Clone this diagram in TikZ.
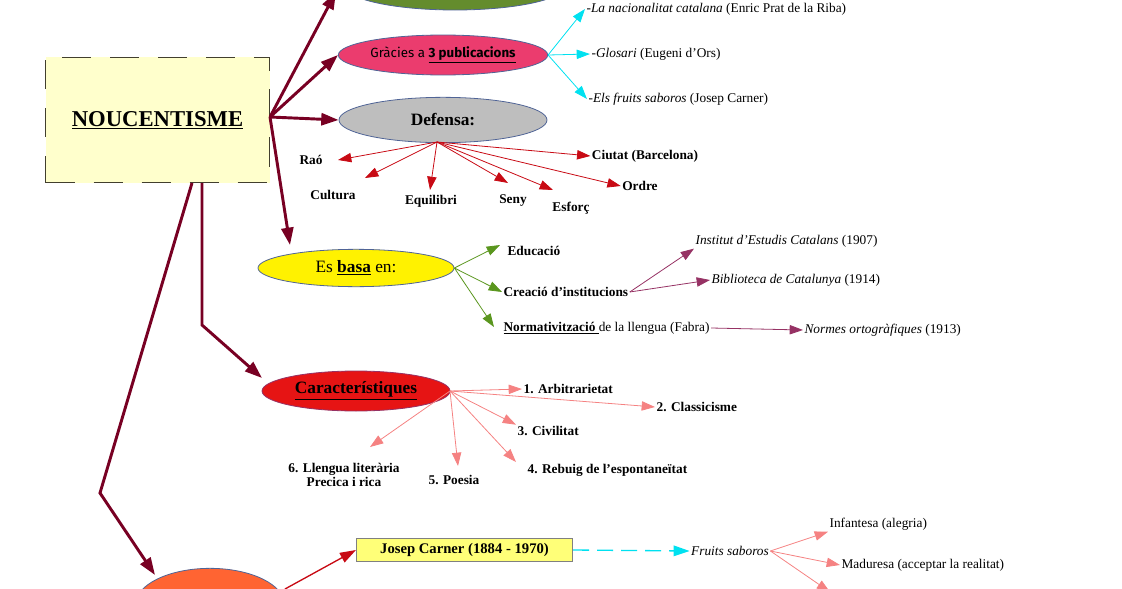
\documentclass[tikz,border=0pt]{standalone}
\usepackage{fontspec}
\setmainfont{Liberation Serif}
\newfontfamily\comic{Fira Sans}
\usetikzlibrary{arrows.meta,shapes.geometric}
\definecolor{dred}{RGB}{120,0,35}
\definecolor{rred}{RGB}{200,10,20}
\definecolor{cy}{RGB}{0,225,240}
\definecolor{gr}{RGB}{90,150,30}
\definecolor{pu}{RGB}{150,50,100}
\definecolor{pk}{RGB}{245,130,130}
\definecolor{bord}{RGB}{80,100,150}
\begin{document}
\begin{tikzpicture}[x=0.75pt,y=-0.75pt,
  big/.style={draw=dred,line width=2.2pt,-{Triangle[length=13pt,width=9pt]}},
  thin/.style={line width=0.6pt,-{Triangle[length=10pt,width=7pt]}},
  ell/.style={ellipse,draw=bord,line width=0.6pt,inner sep=0pt},
  t/.style={font=\fontsize{10}{11}\selectfont,inner sep=1pt},
  tb/.style={t,font=\fontsize{10}{11}\selectfont\bfseries}]
\useasboundingbox (0,0) rectangle (1122,589);
\clip (0,0) rectangle (1122,589);
% main box
\node[draw=black!70!olive,dashed,dash pattern=on 22pt off 14pt,line width=0.8pt,fill={rgb,255:red,255;green,255;blue,204},minimum width=168pt,minimum height=94pt,font=\fontsize{17}{19}\selectfont\bfseries] (main) at (157.5,120) {\underline{NOUCENTISME}};
% ellipses
\node[ell,fill={rgb,255:red,100;green,140;blue,45},minimum width=165pt,minimum height=36pt] (green) at (455,-14) {};
\node[ell,fill={rgb,255:red,235;green,60;blue,110},minimum width=157pt,minimum height=30pt,font=\comic\fontsize{10}{11}\selectfont] (gra) at (443,55) {Gràcies a \underline{\textbf{3 publicacions}}};
\node[ell,fill={rgb,255:red,190;green,190;blue,190},minimum width=156pt,minimum height=34pt,font=\fontsize{13}{14}\selectfont\bfseries] (def) at (443,120) {Defensa:};
\node[ell,fill=yellow,minimum width=147pt,minimum height=28pt,font=\fontsize{13}{14}\selectfont] (bas) at (356,268) {Es \underline{\textbf{basa}} en:};
\node[ell,draw=pu,fill={rgb,255:red,230;green,20;blue,20},minimum width=141pt,minimum height=30pt,font=\fontsize{13}{14}\selectfont\bfseries] (car) at (356,391) {\underline{Característiques}};
\node[ell,fill={rgb,255:red,255;green,100;blue,50},minimum width=112pt,minimum height=55pt] (ora) at (210,605) {};
\node[draw=gray,line width=0.8pt,fill={rgb,255:red,255;green,255;blue,120},minimum width=162pt,minimum height=17pt,inner sep=1pt,font=\fontsize{11}{12}\selectfont\bfseries] (jc) at (464.5,550) {Josep Carner (1884 - 1970)};
% main arrows
\coordinate (mr) at (270,117);
\draw[big] (mr) -- (336,-8);
\draw[big] (mr) -- (gra.west);
\draw[big] (mr) -- (def.west);
\draw[big] (mr) -- (290,245);
\coordinate (b1) at (202,183);
\coordinate (k1) at (202,325);
\draw[big] (b1) -- (k1) -- (262,378);
\coordinate (b2) at (192,183);
\coordinate (k2) at (100,493);
\draw[big] (b2) -- (k2) -- (155,575);
\draw[thin,draw=rred,line width=1pt,-{Triangle[length=12pt,width=8pt]}] (285,589) -- (jc.west);
% texts
\node[t,anchor=west] (n1) at (585,9) {-\textit{La nacionalitat catalana} (Enric Prat de la Riba)};
\node[t,anchor=west] (n2) at (590,54) {-\textit{Glosari} (Eugeni d'Ors)};
\node[t,anchor=west] (n3) at (587,99) {-\textit{Els fruits saboros} (Josep Carner)};
\foreach \n in {n1,n2,n3} \draw[thin,draw=cy] (gra.east) -- (\n.west);
\node[tb] (raa) at (311,160) {Raó};
\node[tb] (cul) at (333,195) {Cultura};
\node[tb] (equ) at (431,201) {Equilibri};
\node[tb] (sen) at (513,201) {Seny};
\node[tb] (esf) at (571,208) {Esforç};
\node[tb] (ord) at (640,186) {Ordre};
\node[tb] (ciu) at (645,156) {Ciutat (Barcelona)};
\coordinate (ds) at (437,142);
\draw[thin,draw=rred] (ds) -- (338,160);
\draw[thin,draw=rred] (ds) -- (365,178);
\draw[thin,draw=rred] (ds) -- (430,190);
\draw[thin,draw=rred] (ds) -- (508,183);
\draw[thin,draw=rred] (ds) -- (553,190);
\draw[thin,draw=rred] (ds) -- (ord.west);
\draw[thin,draw=rred] (ds) -- (ciu.west);
\node[tb,anchor=west] (edu) at (506,251) {Educació};
\node[tb,anchor=west] (cre) at (502,292) {Creació d'institucions};
\node[t,anchor=west] (nor) at (502,328) {\textbf{\underline{Normativització }}de la llengua (Fabra)};
\draw[thin,draw=gr] (bas.east) -- (500,245);
\draw[thin,draw=gr] (bas.east) -- (cre.west);
\draw[thin,draw=gr] (bas.east) -- (494,327);
\node[t,anchor=west] (ins) at (694,241) {\textit{Institut d'Estudis Catalans} (1907)};
\node[t,anchor=west] (bib) at (710,280) {\textit{Biblioteca de Catalunya} (1914)};
\node[t,anchor=west] (nrm) at (803,330) {\textit{Normes ortogràfiques} (1913)};
\draw[thin,draw=pu] (cre.east) -- (ins.south west);
\draw[thin,draw=pu] (cre.east) -- (bib.west);
\draw[thin,draw=pu] (nor.east) -- (nrm.west);
\node[tb,anchor=west] (c1) at (522,389) {1. Arbitrarietat};
\node[tb,anchor=west] (c2) at (655,407) {2. Classicisme};
\node[tb,anchor=west] (c3) at (516,431) {3. Civilitat};
\node[tb,anchor=west] (c4) at (526,470) {4. Rebuig de l'espontaneïtat};
\node[tb] (c5) at (454,480) {5. Poesia};
\node[tb,align=center] (c6) at (344,475) {6. Llengua literària\\Precica i rica};
\coordinate (cs) at (450,391);
\draw[thin,draw=pk] (cs) -- (c1.west);
\draw[thin,draw=pk] (cs) -- (c2.west);
\draw[thin,draw=pk] (cs) -- (c3.north west);
\draw[thin,draw=pk] (cs) -- (516,462);
\draw[thin,draw=pk] (cs) -- (458,466);
\draw[thin,draw=pk] (cs) -- (370,447);
\node[t] (fs) at (730,551) {\textit{Fruits saboros}};
\draw[thin,draw=cy,dashed,dash pattern=on 12pt off 6pt,line width=1pt,-{Triangle[length=12pt,width=8pt]}] (jc.east) -- (fs.west);
\node[t,anchor=west] (inf) at (828,524) {Infantesa (alegria)};
\node[t,anchor=west] (mad) at (840,565) {Maduresa (acceptar la realitat)};
\coordinate (off) at (830,592);
\draw[thin,draw=pk] (fs.east) -- (inf.south west);
\draw[thin,draw=pk] (fs.east) -- (mad.west);
\draw[thin,draw=pk] (fs.east) -- (off);
\end{tikzpicture}
\end{document}
